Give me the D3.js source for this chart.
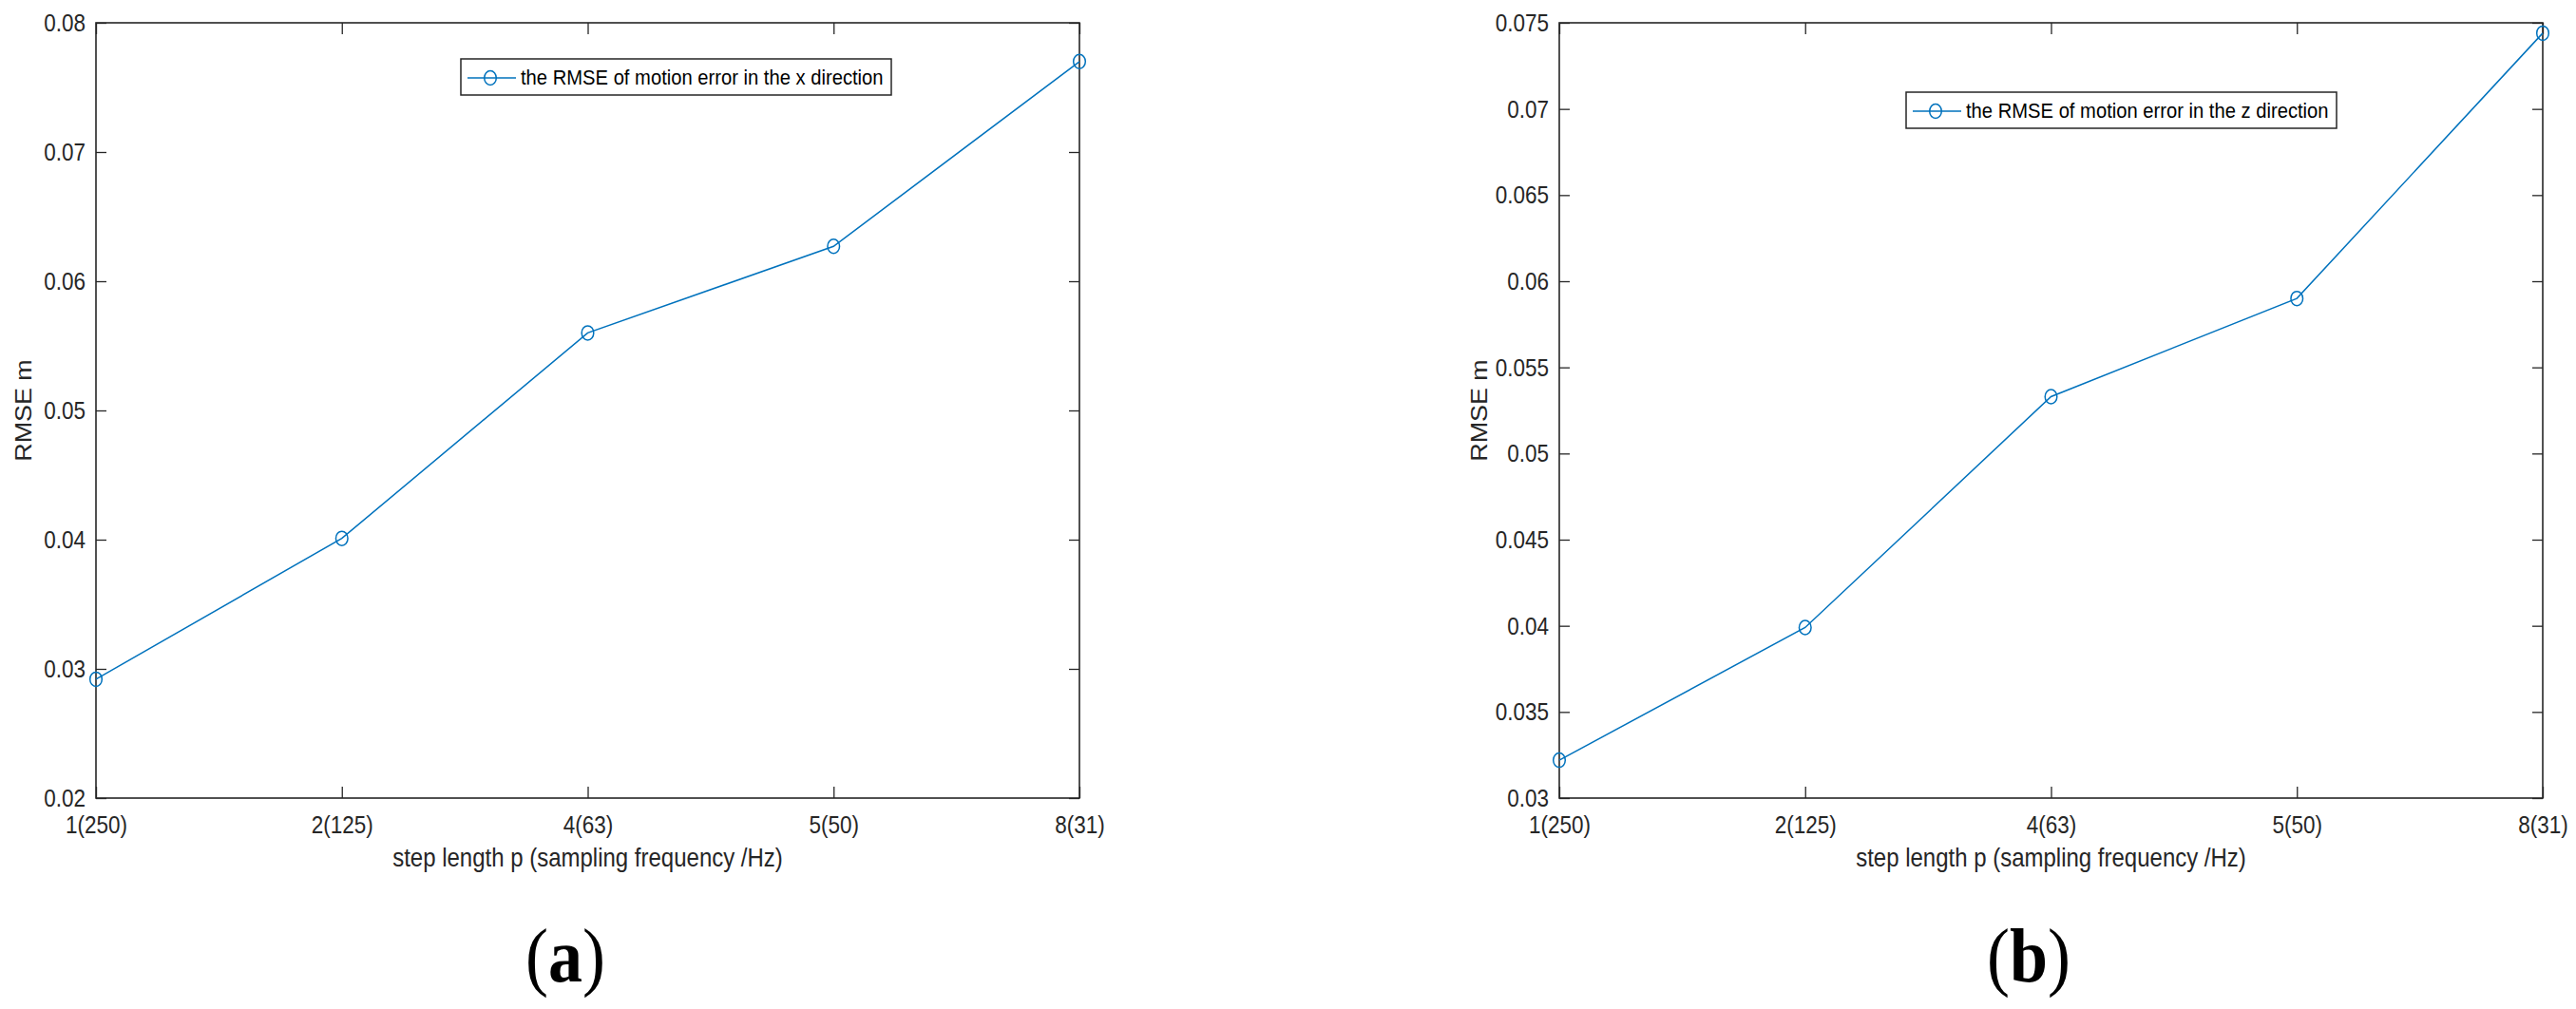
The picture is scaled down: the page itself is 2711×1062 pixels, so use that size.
<!DOCTYPE html>
<html>
<head>
<meta charset="utf-8">
<script src="https://cdn.jsdelivr.net/npm/d3@7"></script>
<style>
  body { margin: 0; background: #fff; }
  svg { display: block; }
  .tick text { font-family: "Liberation Sans", Arial, sans-serif; fill: #262626; }
</style>
</head>
<body>
<script>
// categories on x, shared by both panels
var categories = ["1(250)", "2(125)", "4(63)", "5(50)", "8(31)"];

// RMSE of motion error
var rmseX = [0.0292, 0.0401, 0.0560, 0.0627, 0.0770];
var rmseZ = [0.0322, 0.0399, 0.0533, 0.0590, 0.0744];

var yTicksA = [0.02, 0.03, 0.04, 0.05, 0.06, 0.07, 0.08];
var yTicksB = [0.03, 0.035, 0.04, 0.045, 0.05, 0.055, 0.06, 0.065, 0.07, 0.075];

var legendA = "the RMSE of motion error in the x direction";
var legendB = "the RMSE of motion error in the z direction";
var xTitle = "step length p (sampling frequency /Hz)";
var yTitle = "RMSE m";
var panelLetters = ["a", "b"];

var W = 2711, H = 1062;
var sy = 1.12;          // picture is a bit stretched vertically
var blue = "#0072BD";
var axisCol = "#262626";
var plotTop = 24, plotBottom = 840;

var svg = d3.select("body").append("svg")
    .attr("width", W)
    .attr("height", H);

svg.append("rect").attr("width", W).attr("height", H).attr("fill", "#fff");

var panels = [
    { x0: 101, x1: 1136, values: rmseX, ticks: yTicksA, domain: [0.02, 0.08],
      legend: legendA, legX: 485, legY: 62, yLabX: 33, letter: panelLetters[0], letterX: 595 },
    { x0: 1641, x1: 2676, values: rmseZ, ticks: yTicksB, domain: [0.03, 0.075],
      legend: legendB, legX: 2006, legY: 97, yLabX: 1565, letter: panelLetters[1], letterX: 2135 }
];

panels.forEach(drawPanel);

function drawPanel(p) {
    var x = d3.scalePoint().domain(categories).range([p.x0, p.x1]);
    var y = d3.scaleLinear().domain(p.domain).range([plotBottom, plotTop]);
    var fmt = d3.format("~g");

    var g = svg.append("g");

    // y axis left, ticks pointing inward
    var ya = g.append("g")
        .attr("transform", "translate(" + p.x0 + ",0)")
        .call(d3.axisLeft(y).tickValues(p.ticks).tickFormat(fmt)
            .tickSize(-11).tickSizeOuter(0).tickPadding(11));
    ya.selectAll(".tick text")
        .attr("font-size", 22.5)
        .attr("dy", "0.34em")
        .attr("transform", "scale(1," + sy + ")");

    // right mirror ticks
    g.append("g")
        .attr("transform", "translate(" + p.x1 + ",0)")
        .call(d3.axisRight(y).tickValues(p.ticks).tickFormat("")
            .tickSize(-11).tickSizeOuter(0));

    // x axis bottom
    var xa = g.append("g")
        .attr("transform", "translate(0," + plotBottom + ")")
        .call(d3.axisBottom(x).tickSize(-12).tickSizeOuter(0));
    xa.selectAll(".tick text")
        .attr("font-size", 22.5)
        .attr("y", 17)
        .attr("dy", "0.71em")
        .attr("transform", "scale(1," + sy + ")");

    // top mirror ticks
    g.append("g")
        .attr("transform", "translate(0," + plotTop + ")")
        .call(d3.axisTop(x).tickFormat("").tickSize(-12).tickSizeOuter(0));

    g.selectAll(".domain").remove();
    g.selectAll(".tick line").attr("stroke", axisCol).attr("stroke-width", 1.3);

    // box
    g.append("rect")
        .attr("x", p.x0)
        .attr("y", plotTop)
        .attr("width", p.x1 - p.x0)
        .attr("height", plotBottom - plotTop)
        .attr("fill", "none")
        .attr("stroke", axisCol)
        .attr("stroke-width", 1.6);

    // series
    var line = d3.line()
        .x(function (d, i) { return x(categories[i]); })
        .y(function (d) { return y(d); });

    g.append("path")
        .datum(p.values)
        .attr("d", line)
        .attr("fill", "none")
        .attr("stroke", blue)
        .attr("stroke-width", 1.5);

    g.selectAll("ellipse.pt")
        .data(p.values)
        .enter()
        .append("ellipse")
        .attr("class", "pt")
        .attr("cx", function (d, i) { return x(categories[i]); })
        .attr("cy", function (d) { return y(d); })
        .attr("rx", 6.3)
        .attr("ry", 7.5)
        .attr("fill", "none")
        .attr("stroke", blue)
        .attr("stroke-width", 1.5);

    // axis titles
    g.append("text")
        .attr("transform", "translate(" + ((p.x0 + p.x1) / 2) + ",912) scale(1," + sy + ")")
        .attr("text-anchor", "middle")
        .attr("font-family", "'Liberation Sans', Arial, sans-serif")
        .attr("font-size", 24)
        .attr("fill", axisCol)
        .text(xTitle);

    g.append("text")
        .attr("transform", "translate(" + p.yLabX + "," + ((plotTop + plotBottom) / 2) + ") scale(1," + sy + ") rotate(-90)")
        .attr("text-anchor", "middle")
        .attr("font-family", "'Liberation Sans', Arial, sans-serif")
        .attr("font-size", 24)
        .attr("fill", axisCol)
        .text(yTitle);

    // legend
    var lw = 453, lh = 38;
    var lg = g.append("g").attr("transform", "translate(" + p.legX + "," + p.legY + ")");
    lg.append("rect")
        .attr("width", lw)
        .attr("height", lh)
        .attr("fill", "#fff")
        .attr("stroke", axisCol)
        .attr("stroke-width", 1.5);
    lg.append("line")
        .attr("x1", 7).attr("x2", 58)
        .attr("y1", 20).attr("y2", 20)
        .attr("stroke", blue)
        .attr("stroke-width", 1.5);
    lg.append("ellipse")
        .attr("cx", 31).attr("cy", 20)
        .attr("rx", 6.3).attr("ry", 7.5)
        .attr("fill", "none")
        .attr("stroke", blue)
        .attr("stroke-width", 1.5);
    lg.append("text")
        .attr("transform", "translate(63,27) scale(1," + sy + ")")
        .attr("font-family", "'Liberation Sans', Arial, sans-serif")
        .attr("font-size", 20.2)
        .attr("fill", "#000")
        .text(p.legend);

    // panel letter, e.g. (a)
    var lt = svg.append("text")
        .attr("transform", "translate(" + p.letterX + ",1033) scale(1," + sy + ")")
        .attr("text-anchor", "middle")
        .attr("font-family", "'Liberation Serif', 'Times New Roman', serif")
        .attr("font-size", 72)
        .attr("fill", "#000");
    lt.append("tspan").text("(");
    lt.append("tspan").attr("font-weight", "bold").text(p.letter);
    lt.append("tspan").text(")");
}
</script>
</body>
</html>
